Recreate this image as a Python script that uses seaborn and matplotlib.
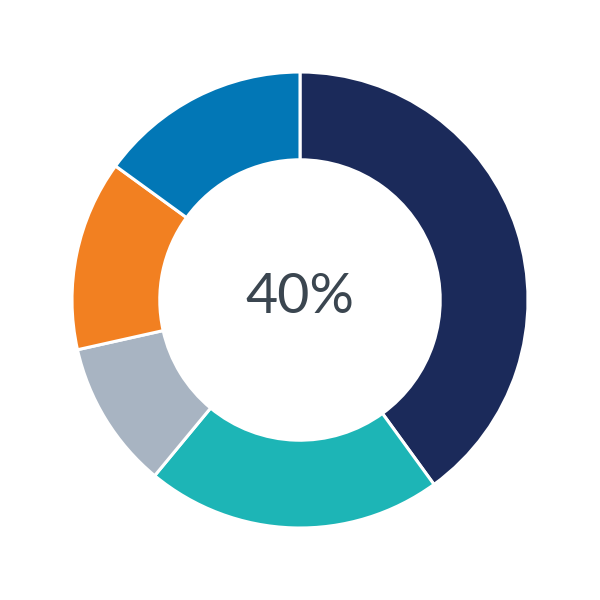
import matplotlib
matplotlib.use("Agg")
import matplotlib.pyplot as plt
import seaborn as sns

categories = ["Navy", "Teal", "Gray", "Orange", "Blue"]
values = [40, 21, 10.5, 13.5, 15]
colors = ["#1b2a5a", "#1db5b6", "#a8b4c2", "#f28021", "#0277b6"]
center_label = "40%"

sns.set_theme(style="white")
plt.rcParams['font.family'] = ['Lato', 'DejaVu Sans']

fig = plt.figure(figsize=(6, 6), dpi=100)
ax = fig.add_axes([0, 0, 1, 1])
ax.pie(values, colors=colors, startangle=90, counterclock=False, radius=1.0,
       wedgeprops=dict(width=0.385, edgecolor="white", linewidth=2.2))
ax.text(0, 0.01, center_label, ha="center", va="center", fontsize=40,
        color="#3b4650", fontweight="normal")
L = 300 / 228
ax.set_xlim(-L, L)
ax.set_ylim(-L, L)
ax.set_aspect("equal")
ax.axis("off")
fig.savefig("out.png", dpi=100, facecolor="white")
